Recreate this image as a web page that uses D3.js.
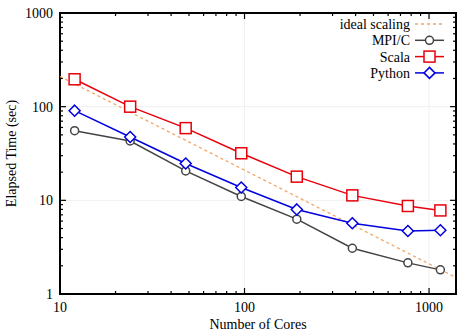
<!DOCTYPE html>
<html>
<head>
<meta charset="utf-8">
<script src="https://cdn.jsdelivr.net/npm/d3@7"></script>
<style>
  body { margin: 0; background: #fff; }
  text { font-family: "Liberation Serif", "DejaVu Serif", serif; }
</style>
</head>
<body>
<div id="chart"></div>
<script>
// data
var cores = [12, 24, 48, 96, 192, 384, 768, 1152];
var mpiTimes = [55.4, 43, 20.6, 11, 6.3, 3.08, 2.15, 1.81];
var scalaTimes = [196, 100, 59, 31.8, 17.9, 11.3, 8.7, 7.8];
var pythonTimes = [90.6, 47.5, 24.7, 13.7, 8.0, 5.7, 4.7, 4.8];
var idealCores = [10, 1400];
var idealTimes = [210, 1.5];
var xTickLabels = [10, 100, 1000];
var yTickLabels = [1, 10, 100, 1000];

var margin = { top: 13, right: 18, bottom: 39, left: 60 },
    width = 474 - margin.left - margin.right,
    height = 333 - margin.top - margin.bottom;

var svg = d3.select("#chart")
    .append("svg")
    .attr("width", 474)
    .attr("height", 333)
    .append("g")
    .attr("transform", "translate(" + margin.left + "," + margin.top + ")");

var x = d3.scaleLog().domain([10, 1400]).range([0, width]);
var y = d3.scaleLog().domain([1, 1000]).range([height, 0]);

// minor ticks for log axes
function minorTicks(scale) {
    var d = scale.domain(), out = [];
    for (var p = Math.floor(Math.log10(d[0])); p <= Math.ceil(Math.log10(d[1])); p++) {
        for (var k = 1; k < 10; k++) {
            var v = k * Math.pow(10, p);
            if (v >= d[0] && v <= d[1]) out.push(v);
        }
    }
    return out;
}

// faint grid
svg.append("g").selectAll("line")
    .data(xTickLabels.filter(function (d) { return d > 10; }))
    .enter().append("line")
    .attr("x1", function (d) { return x(d); })
    .attr("x2", function (d) { return x(d); })
    .attr("y1", 0).attr("y2", height)
    .attr("stroke", "#f0f0f0");
svg.append("g").selectAll("line")
    .data([10, 100])
    .enter().append("line")
    .attr("y1", function (d) { return y(d); })
    .attr("y2", function (d) { return y(d); })
    .attr("x1", 0).attr("x2", width)
    .attr("stroke", "#f0f0f0");

// ticks on all four sides, pointing inward
var xMinor = minorTicks(x), yMinor = minorTicks(y);
function tickLen(v) { return Math.abs(Math.log10(v) % 1) < 1e-9 ? 6 : 3; }

var ticks = svg.append("g").attr("stroke", "#000").attr("stroke-width", 1.2);
xMinor.forEach(function (v) {
    ticks.append("line").attr("x1", x(v)).attr("x2", x(v)).attr("y1", height).attr("y2", height - tickLen(v));
    ticks.append("line").attr("x1", x(v)).attr("x2", x(v)).attr("y1", 0).attr("y2", tickLen(v));
});
yMinor.forEach(function (v) {
    ticks.append("line").attr("y1", y(v)).attr("y2", y(v)).attr("x1", 0).attr("x2", tickLen(v));
    ticks.append("line").attr("y1", y(v)).attr("y2", y(v)).attr("x1", width).attr("x2", width - tickLen(v));
});

// frame
svg.append("rect")
    .attr("width", width).attr("height", height)
    .attr("fill", "none").attr("stroke", "#000").attr("stroke-width", 2);

// tick labels
svg.selectAll(".xlab")
    .data(xTickLabels)
    .enter().append("text")
    .attr("x", function (d) { return x(d); })
    .attr("y", height + 18)
    .attr("text-anchor", "middle")
    .style("font-size", "14px")
    .text(function (d) { return d; });

svg.selectAll(".ylab")
    .data(yTickLabels)
    .enter().append("text")
    .attr("x", -7)
    .attr("y", function (d) { return y(d); })
    .attr("dy", "0.35em")
    .attr("text-anchor", "end")
    .style("font-size", "14px")
    .text(function (d) { return d; });

// axis titles
svg.append("text")
    .attr("x", width / 2)
    .attr("y", height + 35)
    .attr("text-anchor", "middle")
    .style("font-size", "14px")
    .text("Number of Cores");

svg.append("text")
    .attr("transform", "translate(" + (-44) + "," + (height / 2) + ") rotate(-90)")
    .attr("text-anchor", "middle")
    .style("font-size", "14px")
    .text("Elapsed Time (sec)");

// ideal scaling
var line = d3.line()
    .x(function (d) { return x(d[0]); })
    .y(function (d) { return y(d[1]); });

svg.append("path")
    .datum(d3.zip(idealCores, idealTimes))
    .attr("d", line)
    .attr("fill", "none")
    .attr("stroke", "#f4a460")
    .attr("stroke-width", 1.3)
    .attr("stroke-dasharray", "3,3");

var series = [
    { name: "MPI/C", values: mpiTimes, color: "#444444", marker: "circle" },
    { name: "Scala", values: scalaTimes, color: "#e8000b", marker: "square" },
    { name: "Python", values: pythonTimes, color: "#0000e0", marker: "diamond" }
];

function drawMarker(g, type, cx, cy, color) {
    if (type === "circle") {
        g.append("circle").attr("cx", cx).attr("cy", cy).attr("r", 4)
            .attr("fill", "#fff").attr("stroke", color).attr("stroke-width", 1.5);
    } else if (type === "square") {
        g.append("rect").attr("x", cx - 5.5).attr("y", cy - 5.5).attr("width", 11).attr("height", 11)
            .attr("fill", "#fff").attr("stroke", color).attr("stroke-width", 1.5);
    } else {
        g.append("path")
            .attr("d", "M" + cx + "," + (cy - 5.5) + "L" + (cx + 5.5) + "," + cy + "L" + cx + "," + (cy + 5.5) + "L" + (cx - 5.5) + "," + cy + "Z")
            .attr("fill", "#fff").attr("stroke", color).attr("stroke-width", 1.5);
    }
}

series.forEach(function (s) {
    var g = svg.append("g");
    g.append("path")
        .datum(d3.zip(cores, s.values))
        .attr("d", line)
        .attr("fill", "none")
        .attr("stroke", s.color)
        .attr("stroke-width", 1.5);
    cores.forEach(function (c, i) {
        drawMarker(g, s.marker, x(c), y(s.values[i]), s.color);
    });
});

// legend
var legendItems = [{ name: "ideal scaling", color: "#f4a460", marker: null }].concat(series);
var lg = svg.append("g");
legendItems.forEach(function (s, i) {
    var ly = 11 + i * 16.3;
    lg.append("text")
        .attr("x", 350)
        .attr("y", ly)
        .attr("dy", "0.35em")
        .attr("text-anchor", "end")
        .style("font-size", "14px")
        .text(s.name);
    var ln = lg.append("line")
        .attr("x1", 355).attr("x2", 384)
        .attr("y1", ly).attr("y2", ly)
        .attr("stroke", s.color)
        .attr("stroke-width", s.marker ? 1.5 : 1.3);
    if (!s.marker) ln.attr("stroke-dasharray", "3,3");
    else drawMarker(lg, s.marker, 369.5, ly, s.color);
});
</script>
</body>
</html>
